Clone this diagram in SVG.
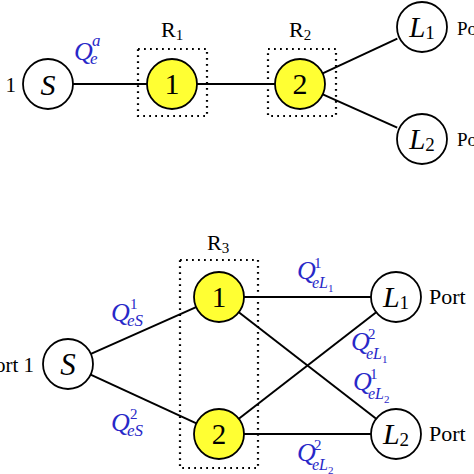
<svg xmlns="http://www.w3.org/2000/svg" width="474" height="474" viewBox="0 0 474 474">
<style>
  .node { stroke: #000; stroke-width: 1.8; }
  .plain { fill: #fff; }
  .res { fill: #ffff33; }
  .box { fill: none; stroke: #000; stroke-width: 2.2; stroke-dasharray: 1.8 4.2; }
  .edge { stroke: #000; stroke-width: 2; fill: none; }
  .t { font-family: "Liberation Serif", "Times New Roman", serif; fill: #000; }
  .it { font-style: italic; }
  .q { font-family: "Liberation Serif", "Times New Roman", serif; font-style: italic; fill: #2828c8; }
  .up { font-style: normal; }
</style>
<rect width="474" height="474" fill="#fff"/>

<!-- top diagram -->
<g id="connectors-top">
  <line class="edge" x1="73" y1="84" x2="147" y2="84"/>
  <line class="edge" x1="197" y1="84" x2="275" y2="84"/>
  <line class="edge" x1="322.7" y1="73.4" x2="397.3" y2="38.6"/>
  <line class="edge" x1="322.8" y1="94.3" x2="397.2" y2="127.7"/>
</g>
<g id="box-R1">
  <rect class="box" x="138" y="49" width="69" height="67"/>
  <text class="t" x="161" y="37" font-size="22">R<tspan font-size="15" dy="3">1</tspan></text>
</g>
<g id="box-R2">
  <rect class="box" x="268" y="49" width="68" height="67"/>
  <text class="t" x="289" y="37" font-size="22">R<tspan font-size="15" dy="3">2</tspan></text>
</g>
<g id="top-S">
  <circle class="node plain" cx="48" cy="84" r="25"/>
  <text class="t it" x="48" y="94.5" font-size="30" text-anchor="middle">S</text>
  <text class="t" x="16" y="92" font-size="21" text-anchor="end">1</text>
</g>
<g id="top-1">
  <circle class="node res" cx="172" cy="84" r="25"/>
  <text class="t" x="172" y="94" font-size="30" text-anchor="middle">1</text>
</g>
<g id="top-2">
  <circle class="node res" cx="300" cy="84" r="25"/>
  <text class="t" x="300" y="94" font-size="30" text-anchor="middle">2</text>
</g>
<g id="top-L1">
  <circle class="node plain" cx="422" cy="27" r="25"/>
  <text class="t" x="422" y="37" font-size="29" text-anchor="middle"><tspan class="it">L</tspan><tspan font-size="19" dy="2">1</tspan></text>
  <text class="t" x="457" y="35" font-size="19">Po</text>
</g>
<g id="top-L2">
  <circle class="node plain" cx="422" cy="139" r="25"/>
  <text class="t" x="422" y="149" font-size="29" text-anchor="middle"><tspan class="it">L</tspan><tspan font-size="19" dy="2">2</tspan></text>
  <text class="t" x="457" y="146" font-size="19">Po</text>
</g>
<g id="label-Qea">
  <text class="q" x="74" y="60" font-size="26">Q</text>
  <text class="q" x="90" y="64" font-size="17">e</text>
  <text class="q" x="92" y="46" font-size="17">a</text>
</g>

<!-- bottom diagram -->
<g id="connectors-bottom">
  <line class="edge" x1="90.9" y1="353.9" x2="196.1" y2="307.1"/>
  <line class="edge" x1="90.6" y1="374.6" x2="196.4" y2="423.4"/>
  <line class="edge" x1="244" y1="297" x2="371" y2="297"/>
  <line class="edge" x1="244" y1="434" x2="371" y2="434"/>
  <line class="edge" x1="238.8" y1="312.3" x2="376.2" y2="418.7"/>
  <line class="edge" x1="238.8" y1="418.7" x2="376.2" y2="312.3"/>
</g>
<g id="box-R3">
  <rect class="box" x="180" y="260" width="78" height="208"/>
  <text class="t" x="207" y="250" font-size="22">R<tspan font-size="15" dy="3">3</tspan></text>
</g>
<g id="bot-S">
  <circle class="node plain" cx="68" cy="364" r="25"/>
  <text class="t it" x="68" y="375" font-size="31" text-anchor="middle">S</text>
  <text class="t" x="34" y="372" font-size="21" text-anchor="end">ort 1</text>
</g>
<g id="bot-1">
  <circle class="node res" cx="219" cy="297" r="25"/>
  <text class="t" x="219" y="307" font-size="29" text-anchor="middle">1</text>
</g>
<g id="bot-2">
  <circle class="node res" cx="219" cy="434" r="25"/>
  <text class="t" x="219" y="444" font-size="29" text-anchor="middle">2</text>
</g>
<g id="bot-L1">
  <circle class="node plain" cx="396" cy="297" r="25"/>
  <text class="t" x="396" y="307" font-size="30" text-anchor="middle"><tspan class="it">L</tspan><tspan font-size="19" dy="2">1</tspan></text>
  <text class="t" x="429" y="304" font-size="22">Port</text>
</g>
<g id="bot-L2">
  <circle class="node plain" cx="396" cy="434" r="25"/>
  <text class="t" x="396" y="444" font-size="30" text-anchor="middle"><tspan class="it">L</tspan><tspan font-size="19" dy="2">2</tspan></text>
  <text class="t" x="429" y="441" font-size="22">Port</text>
</g>
<g id="label-QeS1">
  <text class="q" x="111" y="321" font-size="26">Q</text>
  <text class="q" x="127" y="326" font-size="17">eS</text>
  <text class="q up" x="130" y="309" font-size="15">1</text>
</g>
<g id="label-QeS2">
  <text class="q" x="111" y="431" font-size="26">Q</text>
  <text class="q" x="127" y="436" font-size="17">eS</text>
  <text class="q up" x="130" y="419" font-size="15">2</text>
</g>
<g id="label-QeL1-1">
  <text class="q" x="297" y="279" font-size="26">Q</text>
  <text class="q" x="312" y="288" font-size="16">eL</text>
  <text class="q up" x="328" y="292" font-size="11">1</text>
  <text class="q up" x="314" y="268" font-size="15">1</text>
</g>
<g id="label-QeL1-2">
  <text class="q" x="351" y="350" font-size="26">Q</text>
  <text class="q" x="366" y="359" font-size="16">eL</text>
  <text class="q up" x="382" y="363" font-size="11">1</text>
  <text class="q up" x="368" y="339" font-size="15">2</text>
</g>
<g id="label-QeL2-1">
  <text class="q" x="353" y="390" font-size="26">Q</text>
  <text class="q" x="368" y="399" font-size="16">eL</text>
  <text class="q up" x="384" y="403" font-size="11">2</text>
  <text class="q up" x="370" y="379" font-size="15">1</text>
</g>
<g id="label-QeL2-2">
  <text class="q" x="297" y="461" font-size="26">Q</text>
  <text class="q" x="312" y="470" font-size="16">eL</text>
  <text class="q up" x="328" y="474" font-size="11">2</text>
  <text class="q up" x="314" y="450" font-size="15">2</text>
</g>
</svg>
